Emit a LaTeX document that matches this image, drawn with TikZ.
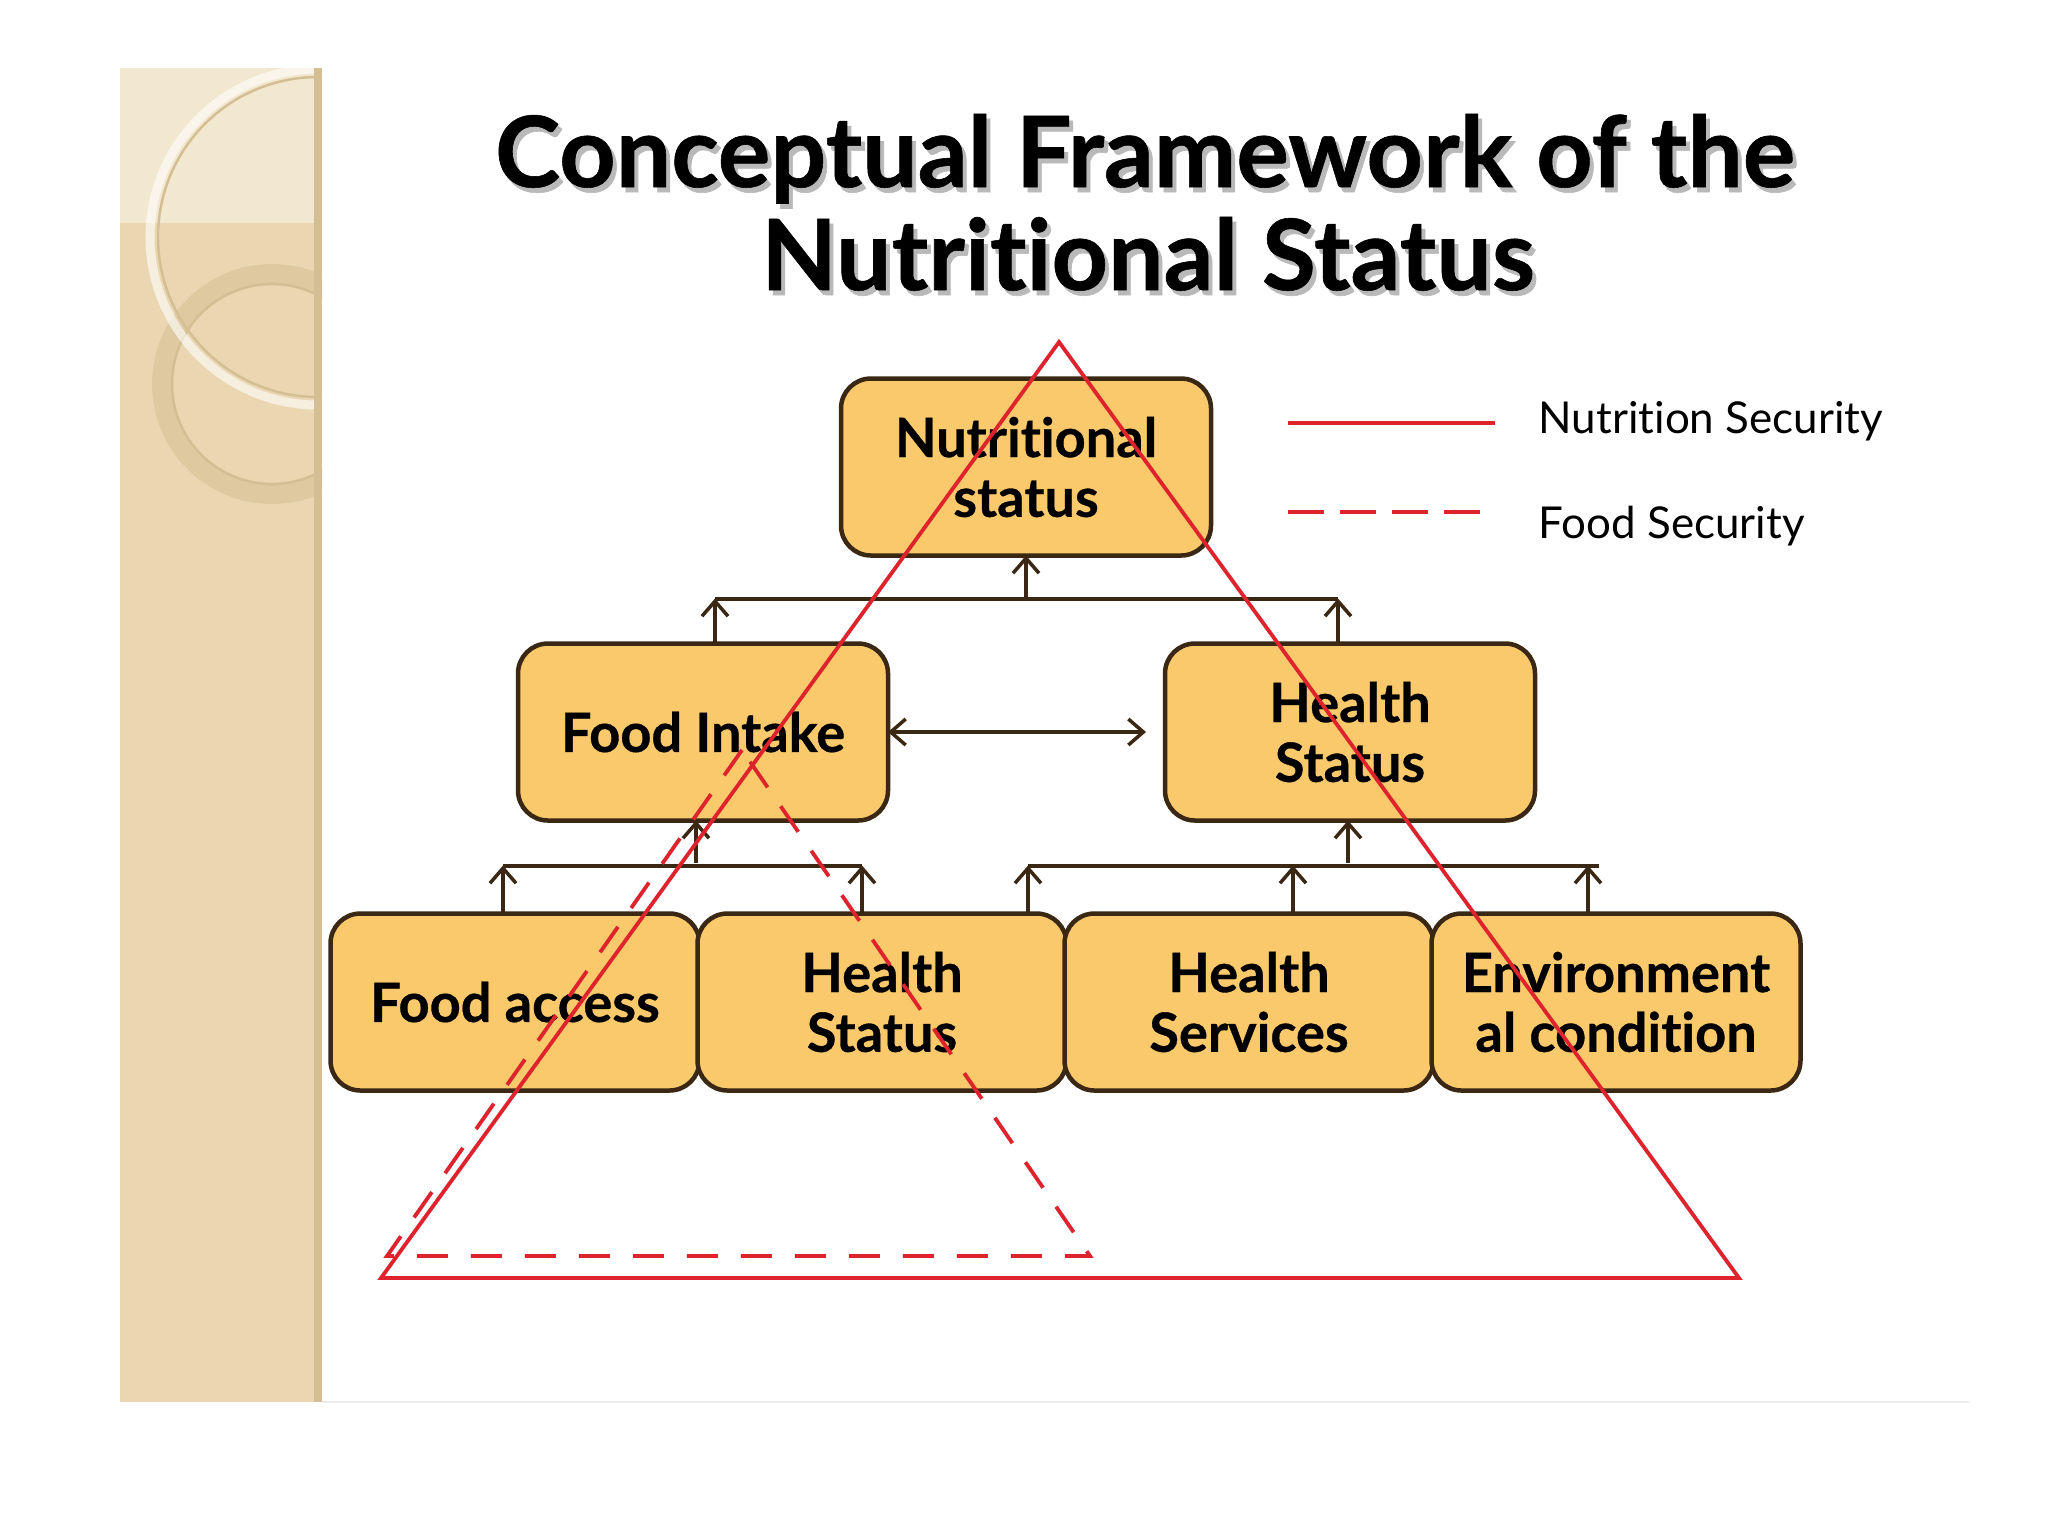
\documentclass[tikz,border=0pt]{standalone}
\usepackage{fontspec}
\setmainfont{Lato}[Ligatures=NoCommon, BoldFeatures={FakeBold=0.6}]
\usetikzlibrary{arrows.meta,positioning}

\definecolor{boxfill}{RGB}{249,201,108}
\definecolor{boxline}{RGB}{58,40,20}
\definecolor{secred}{RGB}{222,35,45}
\definecolor{panel}{RGB}{234,215,178}
\definecolor{panellight}{RGB}{242,231,207}
\definecolor{paneledge}{RGB}{212,190,148}

\begin{document}
\begin{tikzpicture}[
    x=0.1mm, y=-0.1mm,
    >={Straight Barb[length=1.5mm,width=2.6mm]},
    box/.style={rectangle, rounded corners=3mm, draw=boxline, line width=0.45mm, fill=boxfill,
                minimum width=37mm, minimum height=17.7mm, align=center, inner sep=0pt, outer sep=0pt,
                font=\bfseries\fontsize{15.4}{17}\selectfont},
    lowbox/.style={box, minimum width=36.9mm},
    arrow/.style={->, line width=0.35mm, draw=boxline},
    bus/.style={line width=0.4mm, draw=boxline},
    nutrition/.style={draw=secred, line width=0.38mm},
    food/.style={nutrition, dash pattern=on 3.1mm off 2.3mm},
    title/.style={font=\bfseries\fontsize{28}{32}\selectfont, anchor=base, inner sep=0pt},
    legend/.style={font=\fontsize{12.5}{15}\selectfont, anchor=base west, inner sep=0pt}
]
    \useasboundingbox (0,0) rectangle (2048,1536);
    \fill[white] (0,0) rectangle (2048,1536);

    % Side panel
    \fill[panel] (120,68) rectangle (322,1402);
    \begin{scope}
        \clip (120,68) rectangle (322,1402);
        \fill[panellight] (120,68) rectangle (322,223);
        \draw[paneledge!70!panel, opacity=0.8, line width=2mm] (272,384) circle (110);
        \draw[paneledge, line width=0.25mm] (272,384) circle (100);
        \draw[white, opacity=0.6, line width=0.9mm] (318,237) circle (168);
        \draw[paneledge, line width=0.25mm] (318,237) circle (160);
    \end{scope}
    \fill[paneledge] (314,68) rectangle (322,1402);
    \draw[gray!15] (322,1402) -- (1969,1402);

    % Title
    \node[title, text=gray!55] (t1s) at (1149,192) {Conceptual Framework of the};
    \node[title, text=gray!55] (t2s) at (1152,295) {Nutritional Status};
    \node[title] (t1) at (1145,187) {Conceptual Framework of the};
    \node[title] (t2) at (1148,290) {Nutritional Status};

    % Boxes
    \node[box] (ns) at (1026,467) {Nutritional\\status};
    \node[box] (fi) at (703,732) {Food Intake};
    \node[box] (hs) at (1350,732) {Health\\Status};
    \node[lowbox] (fa) at (515,1002) {Food access};
    \node[lowbox, right=-0.2mm of fa] (hsb) {Health\\Status};
    \node[lowbox, right=-0.2mm of hsb] (hsv) {Health\\Services};
    \node[lowbox, right=-0.2mm of hsv] (env) {Environment\\al condition};

    % Upper links
    \draw[bus] ([xshift=1.2mm,yshift=4.5mm]fi.north) -- ([xshift=-1.2mm,yshift=4.5mm]hs.north);
    \draw[arrow] ([xshift=1.2mm]fi.north) -- ++(0,-45);
    \draw[arrow] ([xshift=-1.2mm]hs.north) -- ++(0,-45);
    \draw[arrow] ([yshift=-4.3mm]ns.south) -- (ns.south);
    \draw[arrow, <->] (fi.east) -- ([xshift=-1.9mm]hs.west);

    % Lower left links
    \draw[bus] ([xshift=-1.2mm,yshift=4.8mm]fa.north) -- ([xshift=-2mm,yshift=4.8mm]hsb.north);
    \draw[arrow] ([xshift=-1.2mm]fa.north) -- ++(0,-48);
    \draw[arrow] ([xshift=-2mm]hsb.north) -- ++(0,-48);
    \draw[arrow] ([xshift=-0.7mm,yshift=-4.25mm]fi.south) -- ([xshift=-0.7mm]fi.south);

    % Lower right links
    \draw[bus] ([xshift=14.6mm,yshift=4.8mm]hsb.north) -- ([xshift=-1.7mm,yshift=4.8mm]env.north);
    \draw[arrow] ([xshift=14.6mm]hsb.north) -- ++(0,-48);
    \draw[arrow] ([xshift=4.4mm]hsv.north) -- ++(0,-48);
    \draw[arrow] ([xshift=-2.8mm]env.north) -- ++(0,-48);
    \draw[arrow] ([xshift=-0.2mm,yshift=-4.25mm]hs.south) -- ([xshift=-0.2mm]hs.south);

    % Security triangles
    \coordinate (nsA) at (1059,342);
    \coordinate (nsB) at (381,1278);
    \coordinate (nsC) at (1739,1278);
    \draw[nutrition] (nsA) -- (nsB) -- (nsC) -- cycle;
    \coordinate (fsA) at (742,750);
    \coordinate (fsB) at (387,1256);
    \coordinate (fsC) at (1090,1256);
    \draw[food] (fsA) -- (fsB) -- (fsC) -- cycle;

    % Legend
    \coordinate (k1) at (1288,423);
    \coordinate (k1e) at (1495,423);
    \coordinate (k2) at (1288,512);
    \coordinate (k2e) at (1495,512);
    \draw[nutrition] (k1) -- (k1e);
    \draw[food, dash pattern=on 3.6mm off 1.6mm] (k2) -- (k2e);
    \node[legend] (lns) at (1538,433) {Nutrition Security};
    \node[legend] (lfs) at (1538,538) {Food Security};
\end{tikzpicture}
\end{document}
